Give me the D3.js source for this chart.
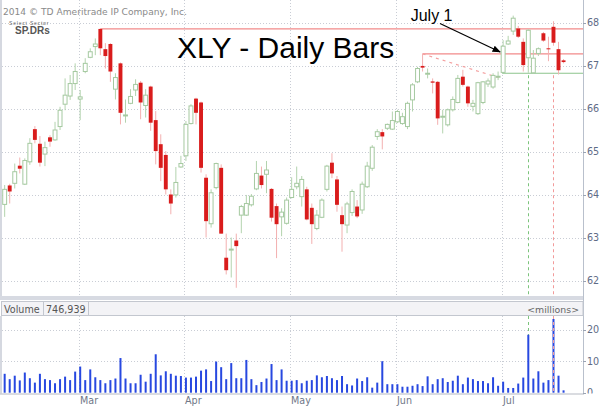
<!DOCTYPE html>
<html><head><meta charset="utf-8">
<script src="https://cdn.jsdelivr.net/npm/d3@7"></script>
<style>body{margin:0;background:#fff;} svg{display:block}</style>
</head><body><svg id="c" width="600" height="406"></svg>
<script>
// ---- data (daily bars, index 0 = Feb 7 2014) ----
const opens  = [63.77,64.21,64.26,64.67,64.24,64.76,65.52,65.18,64.94,65.33, 65.27,65.58,66.10,66.29,66.58,66.22,66.86,67.19,67.44,67.85, 67.38,67.50,66.45,67.05,65.83,66.12,66.43,66.60,66.07,66.51, 65.73,65.17,64.92,64.00,63.99,64.64,64.90,65.65,66.23,66.14, 64.39,63.32,64.16,64.62,62.53,62.71,62.93,63.52,63.52,63.76, 64.13,64.44,64.47,64.13,63.73,63.48,63.33,63.93,64.18,63.95, 64.12,63.69,63.21,63.47,64.12,64.74,64.35,63.52,63.29,63.58, 63.72,63.64,64.18,64.61,65.35,65.45,65.54,65.52,65.69,65.65, 65.58,66.20,66.62,66.99,66.80,66.63,66.62,65.80,65.62,65.97, 66.14,66.74,66.51,66.05,65.88,66.14,66.57,66.50,66.73,66.84, 67.50,67.80,67.86,67.55,67.18,66.83,67.28,67.75,67.40,67.90, 67.38,67.12];
const highs  = [64.22,64.25,64.72,64.86,64.84,65.31,65.59,65.36,65.23,65.38, 65.69,66.04,66.70,66.78,67.05,66.43,67.17,67.40,67.63,67.86, 67.52,67.52,66.82,67.07,66.21,66.45,66.68,66.64,66.45,66.53, 65.94,65.40,65.01,64.12,64.64,64.90,65.71,66.10,66.25,66.16, 64.47,64.12,64.74,64.70,63.09,63.00,63.09,63.76,63.99,64.01, 64.78,64.65,64.78,64.15,63.79,63.68,63.93,64.40,64.65,64.43, 64.18,63.79,63.64,63.91,64.69,64.96,64.43,63.72,63.83,64.12, 63.87,64.30,64.76,65.15,65.52,65.52,65.65,65.93,65.97,65.90, 66.16,66.59,66.97,67.27,66.93,66.70,66.64,65.97,66.00,66.28, 66.78,66.90,66.53,66.20,66.62,66.64,66.70,66.82,66.86,67.59, 67.69,68.16,67.92,67.63,67.84,67.36,67.42,67.78,67.67,68.03, 67.55,67.15];
const lows   = [63.48,63.79,64.14,64.49,64.22,64.69,65.19,64.65,64.66,65.11, 65.25,65.50,65.96,66.20,66.43,65.73,66.82,67.17,67.24,67.24, 66.93,66.62,66.21,65.63,65.67,66.10,66.29,65.75,65.79,65.48, 64.70,64.31,64.00,63.54,63.93,64.62,64.78,65.63,65.63,64.51, 63.00,63.23,64.12,63.09,62.14,62.07,61.83,63.10,63.50,63.72, 64.10,64.14,64.03,63.37,62.52,63.03,63.30,63.91,64.12,63.72, 63.40,62.85,63.17,63.45,64.07,64.38,63.60,62.67,63.10,63.50, 63.45,63.55,64.15,64.55,65.27,65.05,65.50,65.50,65.66,65.62, 65.52,65.93,66.59,66.86,66.70,66.35,65.62,65.42,65.58,65.93, 66.12,66.51,66.04,65.93,65.85,66.10,66.50,66.46,66.66,66.83, 67.48,67.71,67.64,66.86,66.83,66.81,67.22,67.55,67.10,67.46, 66.79,67.05];
const closes = [64.12,64.07,64.53,64.60,64.79,65.19,65.27,64.74,65.09,65.23, 65.50,65.96,66.31,66.58,66.86,66.27,67.05,67.32,67.50,67.40, 67.22,66.86,66.72,65.90,65.85,66.28,66.56,66.14,66.31,65.67, 65.01,64.62,64.12,63.79,64.28,64.72,65.63,66.06,65.90,64.62, 63.38,64.04,64.72,63.09,62.24,62.73,62.80,63.72,63.79,63.96, 64.49,64.22,64.57,63.46,63.31,63.59,63.87,64.12,64.26,64.35, 63.42,63.31,63.52,63.87,64.66,64.49,63.76,63.31,63.78,64.07, 63.49,64.24,64.66,65.10,65.46,65.35,65.63,65.72,65.93,65.81, 66.12,66.55,66.93,66.95,66.82,66.60,65.77,65.82,65.97,66.21, 66.70,66.55,66.12,66.12,66.60,66.62,66.64,66.77,66.75,67.45, 67.57,68.10,67.67,67.01,67.82,67.17,67.39,67.58,67.38,67.53, 66.89,67.08];
const volumes = [6.0,4.3,5.4,3.9,6.4,4.6,3.2,6.0,4.3,4.0, 3.0,4.3,5.1,4.0,6.7,8.3,4.0,7.4,4.9,4.0, 3.0,4.0,4.5,11.0,4.5,3.0,3.0,5.7,3.5,6.0, 12.2,5.5,6.8,6.0,5.4,5.3,4.8,4.8,5.1,7.0, 7.4,3.7,9.9,8.1,4.3,9.4,4.6,4.6,10.4,4.3, 2.4,3.4,4.5,9.1,4.0,7.4,3.8,3.8,4.0,3.0, 3.8,4.0,5.5,4.9,5.3,4.6,4.0,5.3,2.7,2.3, 4.5,3.7,4.9,1.6,3.2,10.0,2.7,2.7,2.7,1.9, 1.9,2.2,2.7,2.1,5.2,2.7,4.3,4.6,3.4,3.8, 5.4,2.7,4.8,4.3,3.7,3.7,3.0,4.9,2.2,3.5, 1.5,1.5,2.9,4.8,18.4,4.5,6.8,3.2,4.0,23.4, 5.4,0.75];
const monthLabels = ["Mar","Apr","May","Jun","Jul"];
const monthStarts = [15,36,57,78,99];
const priceTicks = [62,63,64,65,66,67,68];
const volumeTicks = [10,20];
const volumeLabelTicks = [0,10,20];
const titleText = "XLY - Daily Bars";
const copyrightText = "2014 \u00A9 TD Ameritrade IP Company, Inc.";
const lastVolumeText = "746,939";
// annotation levels
const resistanceTop = {from:19, price:67.85};
const resistanceMid = {from:83, price:67.27};
const supportLine = {from:99, price:66.82};
const trendLine = [{i:83, p:67.27},{i:98.6, p:66.70}];
const markerDays = [{i:104, color:"#7cc47c", front:false},{i:109, color:"#f29a9a", front:true}];
const arrowTarget = {i:99, p:67.28};

// ---- scales ----
const W = 600, H = 406;
const plotRight = 583;
const x = d3.scaleLinear().domain([0, opens.length-1]).range([4.67, 4.67 + 5.035*(opens.length-1)]);
const y = d3.scaleLinear().domain([62, 68]).range([280.5, 22.5]);
const yv = d3.scaleLinear().domain([0, 20]).range([392.7, 329.7]);
const priceTop = 0, priceBottom = 296;
const volTop = 316, volBottom = 393.5;

const svg = d3.select("#c");
const axisColor = "#5e6b86";
const fontUI = "DejaVu Sans, Verdana, sans-serif";

// grid (price)
const gPrice = svg.append("g");
gPrice.selectAll("line.hg").data(priceTicks).join("line")
  .attr("x1", 2).attr("x2", plotRight).attr("y1", d=>Math.round(y(d))+0.5).attr("y2", d=>Math.round(y(d))+0.5)
  .attr("stroke", "#c9cdd5").attr("stroke-dasharray", "1,2");
gPrice.selectAll("line.vg").data(monthStarts).join("line")
  .attr("x1", d=>Math.round(x(d)-1.5)+0.5).attr("x2", d=>Math.round(x(d)-1.5)+0.5)
  .attr("y1", priceTop).attr("y2", priceBottom)
  .attr("stroke", "#c9cdd5").attr("stroke-dasharray", "1,2");

// grid (volume)
const gVol = svg.append("g");
gVol.selectAll("line.hg").data(volumeTicks).join("line")
  .attr("x1", 2).attr("x2", plotRight).attr("y1", d=>Math.round(yv(d))+0.5).attr("y2", d=>Math.round(yv(d))+0.5)
  .attr("stroke", "#c9cdd5").attr("stroke-dasharray", "1,2");
gVol.selectAll("line.vg").data(monthStarts).join("line")
  .attr("x1", d=>Math.round(x(d)-1.5)+0.5).attr("x2", d=>Math.round(x(d)-1.5)+0.5)
  .attr("y1", volTop).attr("y2", volBottom)
  .attr("stroke", "#c9cdd5").attr("stroke-dasharray", "1,2");

// marker dashed verticals (price panel)
markerDays.forEach(m=>{
  const xx = Math.round(x(m.i))+0.5;
  svg.append("line").attr("x1",xx).attr("x2",xx).attr("y1",y(supportLine.price)+2).attr("y2",priceBottom)
    .attr("stroke",m.color).attr("stroke-width",1).attr("stroke-dasharray","3,3");
});
// green marker in volume panel sits behind bars
markerDays.filter(m=>!m.front).forEach(m=>{
  const xx = Math.round(x(m.i))+0.5;
  svg.append("line").attr("x1",xx).attr("x2",xx).attr("y1",volTop).attr("y2",volBottom)
    .attr("stroke",m.color).attr("stroke-width",1).attr("stroke-dasharray","3,3");
});

// annotation lines
svg.append("line").attr("x1", x(resistanceTop.from)).attr("x2", plotRight)
  .attr("y1", y(resistanceTop.price)).attr("y2", y(resistanceTop.price))
  .attr("stroke", "#f28a8a").attr("stroke-width", 1.2);
svg.append("line").attr("x1", x(resistanceMid.from)).attr("x2", plotRight)
  .attr("y1", y(resistanceMid.price)).attr("y2", y(resistanceMid.price))
  .attr("stroke", "#f28a8a").attr("stroke-width", 1.2);
svg.append("line").attr("x1", x(trendLine[0].i)).attr("x2", x(trendLine[1].i))
  .attr("y1", y(trendLine[0].p)).attr("y2", y(trendLine[1].p))
  .attr("stroke", "#f4a0a0").attr("stroke-width", 1.2).attr("stroke-dasharray", "3,4");
svg.append("line").attr("x1", x(supportLine.from)-1).attr("x2", plotRight)
  .attr("y1", y(supportLine.price)).attr("y2", y(supportLine.price))
  .attr("stroke", "#8cc48c").attr("stroke-width", 1.2);

// candles
const bw = 3.9;
const candles = d3.range(opens.length).map(i=>({i, o:opens[i], h:highs[i], l:lows[i], c:closes[i], up: closes[i] >= opens[i]}));
const gC = svg.append("g");
gC.selectAll("line.wick").data(candles).join("line")
  .attr("x1", d=>x(d.i)).attr("x2", d=>x(d.i))
  .attr("y1", d=>y(d.h)).attr("y2", d=>y(d.l))
  .attr("stroke", d=>d.up ? "#b3d3ae" : "#f3b0b0").attr("stroke-width", 1);
gC.selectAll("rect.body").data(candles).join("rect")
  .attr("x", d=>x(d.i)-bw/2)
  .attr("y", d=>y(Math.max(d.o,d.c)))
  .attr("width", bw)
  .attr("height", d=>Math.max(1, Math.abs(y(d.o)-y(d.c))))
  .attr("fill", d=>d.up ? "#ffffff" : "#d91c1c")
  .attr("stroke", d=>d.up ? "#a5c9a0" : "none")
  .attr("stroke-width", 1);

// volume bars
svg.selectAll("rect.vol").data(volumes).join("rect")
  .attr("x", (d,i)=>x(i)-1).attr("width", 2)
  .attr("y", d=>yv(d)).attr("height", d=>yv(0)-yv(d))
  .attr("fill", "#2748e0");

// red marker drawn over volume bars
markerDays.filter(m=>m.front).forEach(m=>{
  const xx = Math.round(x(m.i))+0.5;
  svg.append("line").attr("x1",xx).attr("x2",xx).attr("y1",volTop).attr("y2",volBottom)
    .attr("stroke",m.color).attr("stroke-width",1).attr("stroke-dasharray","3,3");
});

// panel frames
svg.append("rect").attr("x",0).attr("y",0).attr("width",2).attr("height",priceBottom).attr("fill","#d5d8e0");
svg.append("rect").attr("x",0).attr("y",volTop).attr("width",2).attr("height",volBottom-volTop).attr("fill","#d5d8e0");
svg.append("rect").attr("x",0).attr("y",priceBottom).attr("width",plotRight+1).attr("height",4).attr("fill","#d7dae2");
svg.append("line").attr("x1",plotRight+0.5).attr("x2",plotRight+0.5).attr("y1",0).attr("y2",volBottom)
  .attr("stroke","#b9c0cc");
svg.append("line").attr("x1",0).attr("x2",plotRight+1).attr("y1",volBottom+0.5).attr("y2",volBottom+0.5)
  .attr("stroke","#b5b9c2");

// volume header
const hy = 301.5, hh = 14;
svg.append("rect").attr("x",1.5).attr("y",hy).attr("width",plotRight-1.5).attr("height",hh)
  .attr("fill","#f3f3f6").attr("stroke","#c3c7cf");
svg.append("line").attr("x1",43.5).attr("x2",43.5).attr("y1",hy).attr("y2",hy+hh).attr("stroke","#c3c7cf");
svg.append("line").attr("x1",88.5).attr("x2",88.5).attr("y1",hy).attr("y2",hy+hh).attr("stroke","#c3c7cf");
svg.append("text").attr("x",4).attr("y",312.5).text("Volume")
  .attr("font-family",fontUI).attr("font-size",9.6).attr("fill","#555");
svg.append("text").attr("x",46).attr("y",312.5).text(lastVolumeText)
  .attr("font-family",fontUI).attr("font-size",9.6).attr("fill","#555");
svg.append("text").attr("x",579).attr("y",312.5).attr("text-anchor","end").text("<millions>")
  .attr("font-family",fontUI).attr("font-size",9.4).attr("fill","#666");

// right axes
const yAxisG = svg.append("g");
yAxisG.selectAll("line").data(priceTicks).join("line")
  .attr("x1",plotRight).attr("x2",plotRight+3).attr("y1",d=>Math.round(y(d))+0.5).attr("y2",d=>Math.round(y(d))+0.5)
  .attr("stroke","#9aa3b3");
yAxisG.selectAll("text").data(priceTicks).join("text")
  .attr("x",plotRight+4).attr("y",d=>y(d)+3.6).text(d=>d)
  .attr("font-family",fontUI).attr("font-size",9.6).attr("fill",axisColor);
svg.append("clipPath").attr("id","vclip").append("rect").attr("x",0).attr("y",volTop).attr("width",W).attr("height",volBottom-volTop);
const vAxisG = svg.append("g");
vAxisG.selectAll("line").data(volumeLabelTicks).join("line")
  .attr("x1",plotRight).attr("x2",plotRight+3).attr("y1",d=>Math.round(yv(d))+0.5).attr("y2",d=>Math.round(yv(d))+0.5)
  .attr("stroke","#9aa3b3");
vAxisG.append("g").attr("clip-path","url(#vclip)").selectAll("text").data(volumeLabelTicks).join("text")
  .attr("x",plotRight+4).attr("y",d=>yv(d)+3.6).text(d=>d)
  .attr("font-family",fontUI).attr("font-size",9.6).attr("fill",axisColor);

// month labels
svg.selectAll("text.month").data(monthStarts).join("text")
  .attr("x", d=>Math.round(x(d)-1.5)+1).attr("y", 403.5).text((d,i)=>monthLabels[i])
  .attr("font-family",fontUI).attr("font-size",9.6).attr("fill","#6f7787");

// header texts
svg.append("text").attr("x",3).attr("y",15).text(copyrightText)
  .attr("font-family",fontUI).attr("font-size",9.1).attr("fill","#8a8a8a");
svg.append("text").attr("x",9).attr("y",25).text("Select Sector")
  .attr("font-family","Liberation Sans, Arial, sans-serif").attr("font-size",5).attr("letter-spacing",0.8).attr("fill","#666");
svg.append("text").attr("x",15).attr("y",33.5).text("SP.DRs")
  .attr("font-family","Liberation Sans, Arial, sans-serif").attr("font-size",10).attr("font-weight","bold").attr("fill","#555");

svg.append("text").attr("x",177).attr("y",57.5).text(titleText)
  .attr("font-family","Liberation Sans, Arial, sans-serif").attr("font-size",30).attr("fill","#000");

// July 1 annotation
svg.append("defs").append("marker").attr("id","arr").attr("viewBox","0 0 10 10").attr("refX",9).attr("refY",5)
  .attr("markerWidth",7).attr("markerHeight",7).attr("orient","auto")
  .append("path").attr("d","M0,1 L10,5 L0,9 Z").attr("fill","#000");
svg.append("text").attr("x",410.7).attr("y",20.8).text("July 1")
  .attr("font-family","Liberation Sans, Arial, sans-serif").attr("font-size",16).attr("fill","#000");
svg.append("line").attr("x1",440).attr("y1",23.5).attr("x2",x(arrowTarget.i)-3).attr("y2",y(arrowTarget.p)-1.5)
  .attr("stroke","#000").attr("stroke-width",1.2).attr("marker-end","url(#arr)");
</script></body></html>
